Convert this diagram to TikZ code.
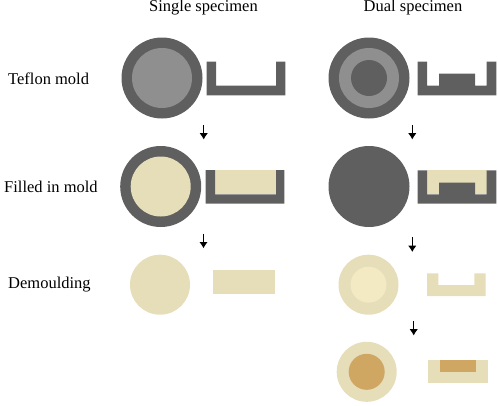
\documentclass[tikz,border=0pt]{standalone}
\usepackage{fontspec}
\setmainfont{Liberation Serif}
\usetikzlibrary{arrows.meta}
\definecolor{molddark}{HTML}{5F5F5F}
\definecolor{moldgrey}{HTML}{8F8F8F}
\definecolor{resin}{HTML}{E6DDB9}
\definecolor{resinlight}{HTML}{F3EAC4}
\definecolor{resincure}{HTML}{CFA662}
\begin{document}
\begin{tikzpicture}[
    x=1pt, y=-1pt,
    every node/.style={font=\fontsize{16.5}{18}\selectfont},
    disc/.style={circle, inner sep=0pt, minimum size=#1},
    outer/.style={disc=81pt, fill=molddark},
    cavity/.style={disc=60pt, fill=moldgrey},
    cast/.style={disc=60pt, fill=resin},
    core/.style={disc=36pt},
    rowlabel/.style={anchor=west, inner sep=0pt},
    flow/.style={-{Latex[length=2.2mm, width=3mm]}, line width=1.5pt}
]
\useasboundingbox (0,0) rectangle (498,405);
% headings
\node (single) at (203.5,8) {Single specimen};
\node (dual) at (413,8) {Dual specimen};
\node[rowlabel] (teflon) at (8,79) {Teflon mold};
\node[rowlabel] (filled) at (4,187) {Filled in mold};
\node[rowlabel] (demould) at (8,285) {Demoulding};
% single specimen, top views
\node[outer] (moldA) at (162,78) {};
\node[cavity] (cavA) at (moldA.center) {};
\node[outer] (moldB) at (160.7,186.5) {};
\node[cast] (castB) at (moldB.center) {};
\node[cast] (castC) at (160,284.7) {};
% single specimen, sections
\fill[molddark] (206.7,61.7) -| (216,85.7) -| (276,61.7) -| (285.3,95.3) -| cycle;
\fill[resin] (215,170) rectangle (276,194.3);
\fill[molddark] (205.7,170) -| (215,194.3) -| (276,170) -| (284.3,203.5) -| cycle;
\fill[resin] (213,270) rectangle (275,294.3);
% dual specimen, top views
\node[outer] (moldD) at (369,78) {};
\node[cavity] (cavD) at (moldD.center) {};
\node[core, fill=molddark] (coreD) at (moldD.center) {};
\node[outer] (moldE) at (369,186.5) {};
\node[cast] (castF) at (368.5,284.7) {};
\node[core, fill=resinlight] (coreF) at (castF.center) {};
\node[cast] (castG) at (366.7,371.8) {};
\node[core, fill=resincure] (coreG) at (castG.center) {};
% dual specimen, sections
\fill[molddark] (417.7,61.7) -| (427,85.7) -| (439,73.7) -| (475,85.7) -| (486.7,61.7) -| (496.3,95.3) -| cycle;
\fill[resin] (427,170.3) rectangle (486.7,194.3);
\fill[molddark] (417.7,170.3) -| (427,194.3) -| (439,182.7) -| (475,194.3) -| (486.7,170.3) -| (496.3,203.5) -| cycle;
\fill[resin] (427,273.3) -| (438.3,285) -| (474.3,273.3) -| (485.7,296) -| cycle;
\fill[resin] (428.3,360) rectangle (487.7,383.3);
\fill[resincure] (440,360) rectangle (476,371.7);
% arrows
\coordinate (a1) at (203.7,125);
\coordinate (a2) at (203.7,139.5);
\coordinate (b1) at (203.5,233.5);
\coordinate (b2) at (203.5,248.3);
\coordinate (c1) at (412.3,125);
\coordinate (c2) at (412.3,139.5);
\coordinate (d1) at (412.3,237.3);
\coordinate (d2) at (412.3,252);
\coordinate (e1) at (413.7,321);
\coordinate (e2) at (413.7,335.5);
\draw[flow] (a1) -- (a2);
\draw[flow] (b1) -- (b2);
\draw[flow] (c1) -- (c2);
\draw[flow] (d1) -- (d2);
\draw[flow] (e1) -- (e2);
\end{tikzpicture}
\end{document}
